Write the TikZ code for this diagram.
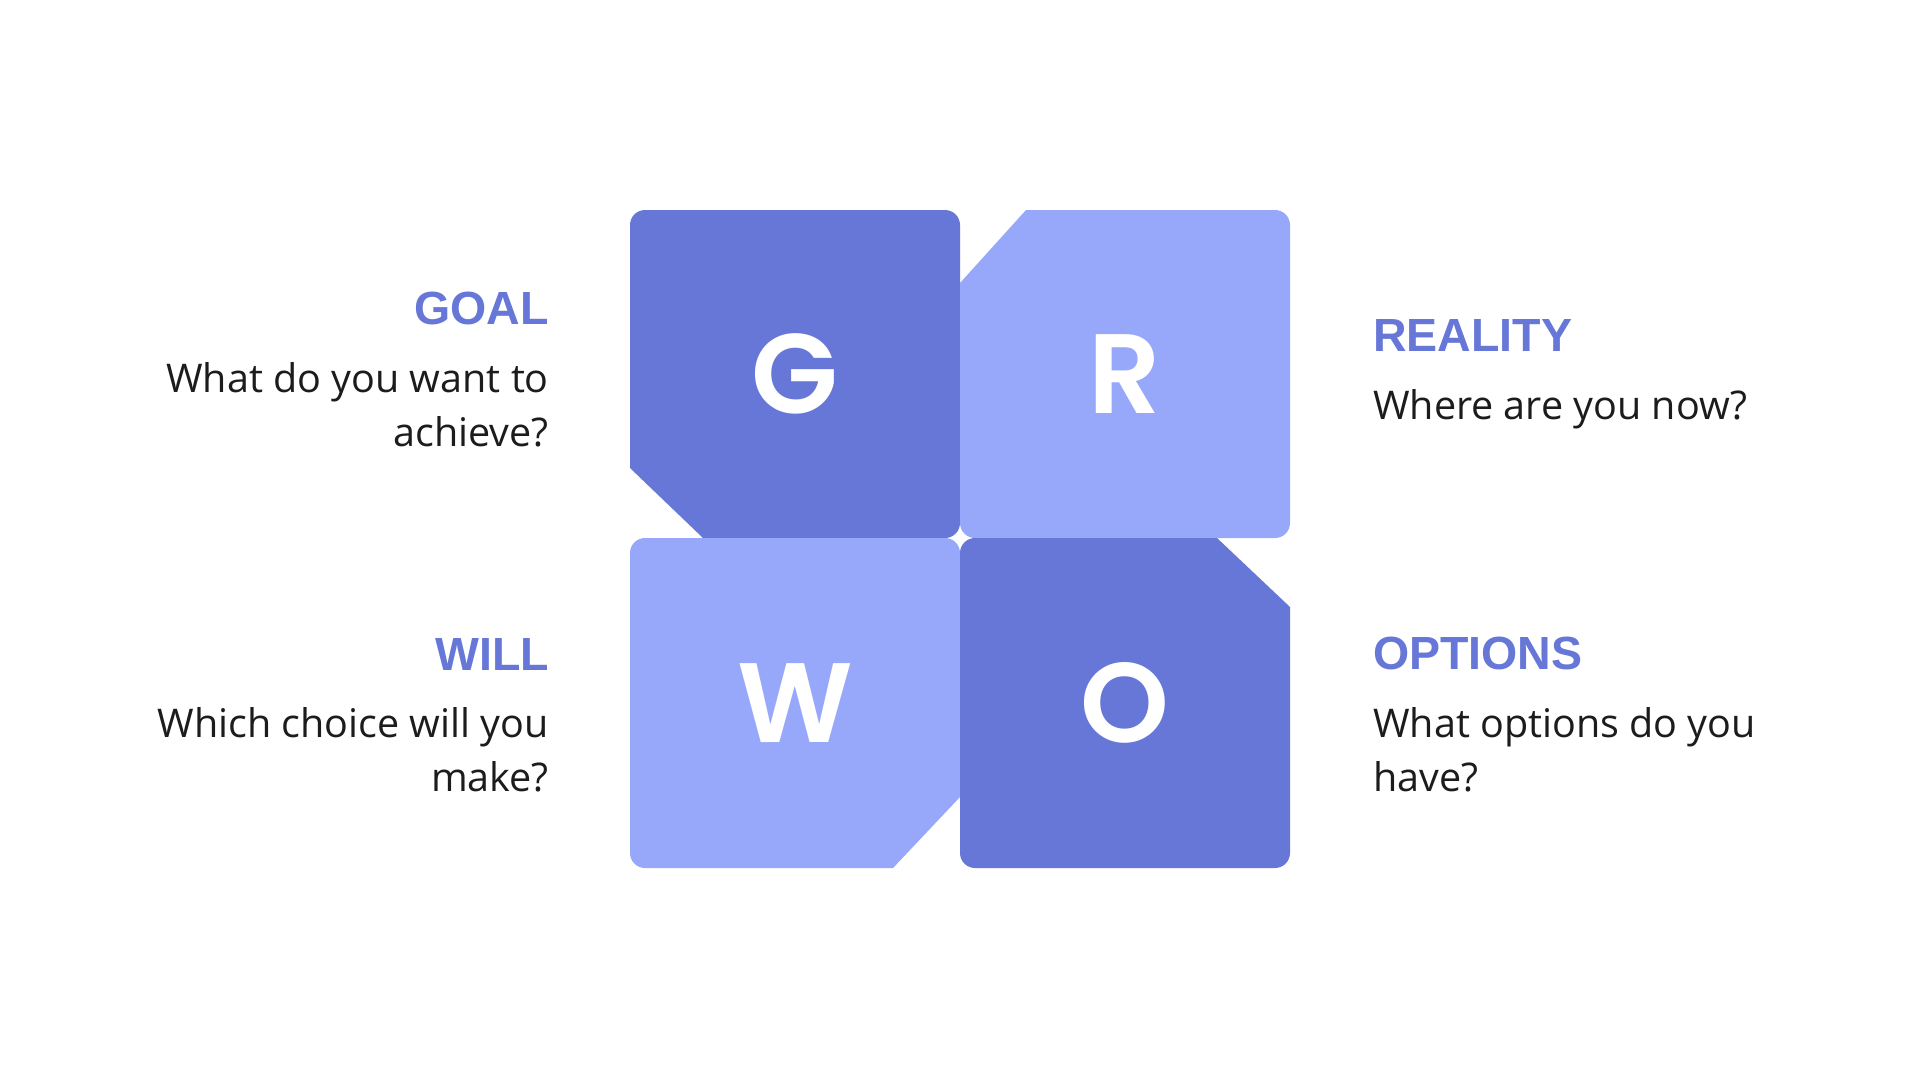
\documentclass[tikz,border=0pt]{standalone}
\usepackage{fontspec}
\setmainfont{Liberation Sans}
\newfontfamily\letterfont{Poppins}[BoldFont={Poppins SemiBold}]
\newfontfamily\titlefont{Liberation Sans}
\newfontfamily\bodyfont{Open Sans}
\definecolor{darkblue}{HTML}{6677D8}
\definecolor{lightblue}{HTML}{97A8FB}
\definecolor{bodytext}{HTML}{1C1C1C}
\begin{document}
\begin{tikzpicture}[x=1pt,y=-1pt,
  letter/.style={text=white,font=\letterfont\bfseries\fontsize{113}{113}\selectfont,inner sep=0pt},
  heading/.style={text=darkblue,font=\titlefont\bfseries\fontsize{46.5}{46.5}\selectfont,inner sep=0pt},
  bodyline/.style={text=bodytext,font=\bodyfont\fontsize{39.5}{39.5}\selectfont,inner sep=0pt}]
\useasboundingbox[fill=white] (0,0) rectangle (1920,1080);
% G
\fill[darkblue] (630,468) -- (630,225) arc[start angle=180,end angle=270,radius=15]
  -- (945,210) arc[start angle=270,end angle=360,radius=15]
  -- (960,523) arc[start angle=0,end angle=90,radius=15]
  -- (703,538) -- cycle;
% R
\fill[lightblue] (960,283) -- (1026,210) -- (1275,210) arc[start angle=270,end angle=360,radius=15]
  -- (1290,523) arc[start angle=0,end angle=90,radius=15]
  -- (975,538) arc[start angle=90,end angle=180,radius=15] -- cycle;
% W
\fill[lightblue] (630,553) arc[start angle=180,end angle=270,radius=15]
  -- (945,538) arc[start angle=270,end angle=360,radius=15]
  -- (960,797) -- (893,868) -- (645,868) arc[start angle=90,end angle=180,radius=15] -- cycle;
% O
\fill[darkblue] (960,553) arc[start angle=180,end angle=270,radius=15]
  -- (1217,538) -- (1290,607) -- (1290,853) arc[start angle=0,end angle=90,radius=15]
  -- (975,868) arc[start angle=90,end angle=180,radius=15] -- cycle;
% letters
\node[letter] (lG) at (795,374) {G};
\node[letter] (lR) at (1125,374) {R};
\node[letter] (lW) at (795,703) {W};
\node[letter] (lO) at (1125,703) {O};
% left texts
\node[heading,anchor=base east] (goal) at (549,324) {GOAL};
\node[bodyline,anchor=base east] (goal1) at (549,392) {What do you want to};
\node[bodyline,anchor=base east] (goal2) at (549,446) {achieve?};
\node[heading,anchor=base east] (will) at (549,670) {WILL};
\node[bodyline,anchor=base east] (will1) at (549,737) {Which choice will you};
\node[bodyline,anchor=base east] (will2) at (549,791) {make?};
% right texts
\node[heading,anchor=base west] (reality) at (1373,351) {REALITY};
\node[bodyline,anchor=base west] (reality1) at (1373,419) {Where are you now?};
\node[heading,anchor=base west] (options) at (1373,669) {OPTIONS};
\node[bodyline,anchor=base west] (options1) at (1373,737) {What options do you};
\node[bodyline,anchor=base west] (options2) at (1373,791) {have?};
\end{tikzpicture}
\end{document}
